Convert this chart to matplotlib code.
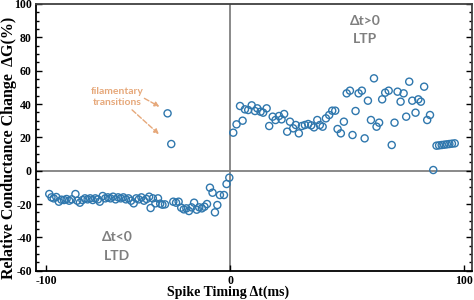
import numpy as np
import matplotlib
matplotlib.use('Agg')
from matplotlib import pyplot as plt
from matplotlib.ticker import MultipleLocator, FixedLocator

plt.rcParams['axes.unicode_minus'] = False

# LTD branch (dt < 0)
ltd_dt = [-98.2, -97.0, -95.8, -94.4, -93.0, -91.6, -90.2, -88.8, -87.4, -86.0,
          -84.0, -83.0, -81.6, -80.2, -78.8, -77.4, -76.0, -74.6, -73.2, -71.8,
          -70.8, -69.2, -67.8, -66.4, -65.0, -63.6, -62.2, -60.8, -59.4, -58.0,
          -56.6, -55.2, -53.8, -52.4, -51.0, -49.6, -48.2, -46.8, -45.4, -44.0,
          -43.2, -42.0, -40.6, -39.2, -38.0, -36.8, -35.4,
          -30.9, -29.4, -28.0, -26.6, -25.2, -23.8, -22.4, -21.0, -19.6, -18.2,
          -16.8, -15.4, -14.0, -12.6,
          -11.0, -9.6, -8.3, -7.0, -5.6, -3.4, -2.0, -0.5]
ltd_dg = [-14.0, -16.0, -16.6, -15.8, -18.6, -17.4, -17.6, -17.0, -18.0, -17.2,
          -14.0, -18.0, -19.2, -17.6, -16.6, -17.2, -16.6, -17.6, -16.6, -17.2,
          -18.6, -15.2, -16.6, -16.0, -16.6, -15.6, -17.2, -16.0, -16.6, -16.0,
          -17.2, -16.6, -18.0, -19.6, -16.6, -17.2, -16.0, -18.0, -17.0, -15.6,
          -22.4, -16.6, -19.6, -16.6, -19.8, -20.4, -20.2,
          -18.6, -19.2, -18.6, -22.2, -23.2, -22.6, -24.2, -22.0, -19.2, -23.4,
          -22.0, -22.6, -21.6, -20.0,
          -10.2, -13.2, -25.0, -20.6, -14.6, -14.6, -8.0, -4.2]

# filamentary transitions
fil_dt = [-34.0, -32.0]
fil_dg = [34.4, 16.0]

# LTP branch (dt > 0)
ltp_dt = [1.3, 2.7, 5.3, 4.2, 6.3, 7.7, 9.2, 10.6, 11.6, 13.0,
          14.1, 15.6, 16.7, 18.2, 19.4, 20.9, 22.0, 23.1, 24.4, 25.6,
          27.0, 28.1, 29.4, 30.7, 32.0, 33.4, 34.7, 35.9, 37.3, 38.4,
          39.6, 41.0, 42.4, 43.7, 45.0, 46.0, 47.4, 48.7, 49.9, 51.3,
          52.4, 53.7, 55.0, 56.4, 57.6, 59.0, 60.3, 61.6, 62.7, 63.8,
          65.1, 66.4, 67.9, 69.2, 70.4, 71.7, 73.0, 74.3, 75.4, 76.7,
          78.0, 79.4, 80.6, 81.7, 83.1, 84.4, 85.6, 87.0,
          88.4, 89.5, 90.6, 91.7, 92.8, 93.9, 95.0, 96.2]
ltp_dg = [22.8, 27.8, 30.0, 38.8, 36.8, 36.4, 39.2, 35.8, 37.4, 35.4,
          34.8, 37.4, 26.8, 32.4, 30.4, 32.8, 30.8, 34.0, 23.4, 29.4,
          25.4, 27.4, 22.4, 26.8, 27.4, 28.0, 27.2, 26.0, 30.4, 27.4,
          26.4, 31.4, 33.4, 36.0, 36.0, 25.0, 22.4, 29.4, 46.4, 48.0,
          21.4, 35.8, 46.4, 48.0, 19.4, 42.0, 30.4, 55.4, 26.4, 28.8,
          42.8, 46.8, 48.0, 15.4, 28.8, 47.4, 41.4, 46.4, 32.4, 53.4,
          42.0, 34.8, 42.8, 41.4, 50.4, 30.4, 33.4, 0.4,
          15.0, 15.2, 15.4, 15.6, 15.8, 16.0, 16.2, 16.4]

# left half of the axis is compressed relative to the right half
r = 1.843 / 2.334


def fwd(x):
    x = np.asarray(x, dtype=float)
    return np.where(x < 0, x * r, x)


def inv(x):
    x = np.asarray(x, dtype=float)
    return np.where(x < 0, x / r, x)


fig = plt.figure(figsize=(4.74, 3.0), dpi=100)
ax = fig.add_axes([36 / 474, 1 - 270.7 / 300, 436 / 474, 266.7 / 300])
ax.set_xscale('function', functions=(fwd, inv))
ax.set_xlim(-105.4, 103.6)
ax.set_ylim(-60, 100)

ax.axhline(0, color='#808080', lw=1.3, zorder=1)
ax.axvline(0, color='#808080', lw=1.3, zorder=1)

mk = dict(s=26, facecolors='none', edgecolors='#2f77ad', linewidths=1.0, zorder=3)
ax.scatter(ltd_dt, ltd_dg, **mk)
ax.scatter(fil_dt, fil_dg, **mk)
ax.scatter(ltp_dt, ltp_dg, **mk)

# ticks
ax.xaxis.set_major_locator(FixedLocator([-100, 0, 100]))
ax.xaxis.set_minor_locator(FixedLocator([]))
ax.yaxis.set_major_locator(MultipleLocator(20))
ax.yaxis.set_minor_locator(MultipleLocator(5))
ax.tick_params(axis='both', which='both', direction='in', right=True, top=False)
ax.tick_params(axis='both', which='major', length=4, width=1, pad=3)
ax.tick_params(axis='both', which='minor', length=2.5, width=1)
ax.set_xticklabels(['-100', '0', '100'])
for lab in ax.get_xticklabels() + ax.get_yticklabels():
    lab.set_fontfamily('Liberation Serif')
    lab.set_fontweight('bold')
    lab.set_fontsize(8.5)

for s in ax.spines.values():
    s.set_linewidth(1.3)
ax.spines['top'].set_color('#404040')
ax.spines['right'].set_color('#404040')

ax.set_xlabel('Spike Timing \u0394t(ms)', family='Liberation Serif',
              fontweight='bold', fontsize=10)
ax.xaxis.set_label_coords(0.44, -0.056)
ax.set_ylabel('Relative Conductance Change  \u0394G(%)',
              family='Liberation Serif', fontweight='bold', fontsize=11.5)
ax.yaxis.set_label_coords(-0.044, 0.46)

# annotations
grey = '#7f7f7f'
ax.text(57.7, 89.8, '\u0394t>0', ha='center', va='center', color=grey,
        fontsize=10, fontweight='bold', family='Lato')
ax.text(57.7, 79.0, 'LTP', ha='center', va='center', color=grey,
        fontsize=10, fontweight='bold', family='Lato')
ax.text(-61.5, -39.8, '\u0394t<0', ha='center', va='center', color=grey,
        fontsize=10, fontweight='bold', family='Lato')
ax.text(-61.5, -51.2, 'LTD', ha='center', va='center', color=grey,
        fontsize=10, fontweight='bold', family='Lato')

tan = '#e6a87a'
ax.text(-61.5, 47.8, 'filamentary', ha='center', va='center', color=tan,
        fontsize=7.5, fontweight='bold', family='Lato')
ax.text(-61.5, 41.2, 'transitions', ha='center', va='center', color=tan,
        fontsize=7.5, fontweight='bold', family='Lato')
arw = dict(arrowstyle='-|>', color=tan, lw=1, linestyle='--', mutation_scale=7)
ax.annotate('', xy=(-37.1, 37.6), xytext=(-47.9, 44.2), arrowprops=arw)
ax.annotate('', xy=(-37.6, 20.8), xytext=(-54.4, 37.6), arrowprops=arw)

fig.savefig('out.png', dpi=100)
